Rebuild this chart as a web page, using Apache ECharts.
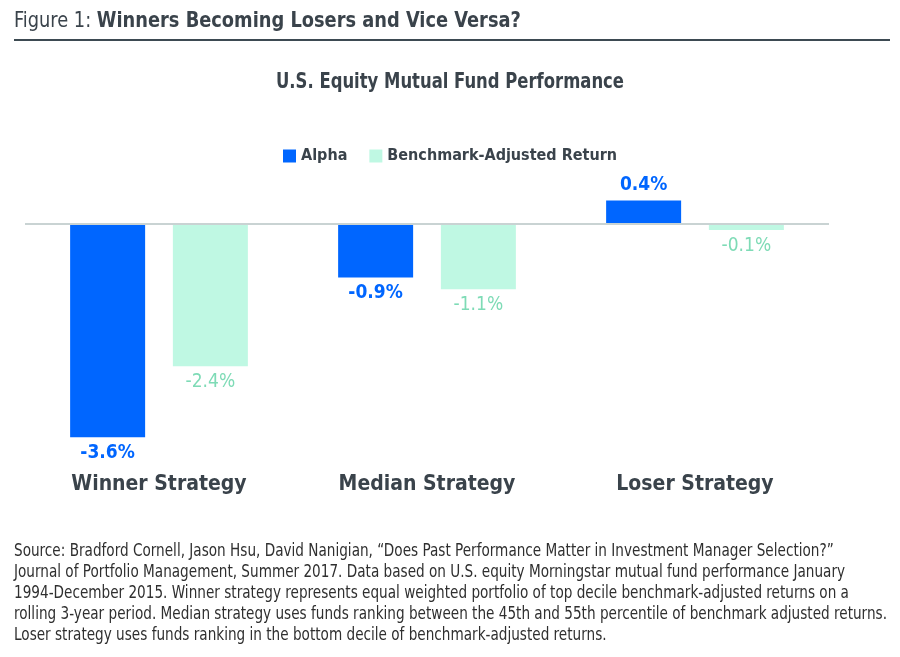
<!DOCTYPE html>
<html>
<head>
<meta charset="utf-8">
<script src="https://cdn.jsdelivr.net/npm/echarts@6/dist/echarts.min.js"></script>
<style>
  html, body { margin: 0; padding: 0; background: #fff; }
  #main { width: 900px; height: 657px; }
</style>
</head>
<body>
<div id="main"></div>
<script>
// data
const categories = ['Winner Strategy', 'Median Strategy', 'Loser Strategy'];
const alphaValues = [-3.6, -0.9, 0.4];
const benchmarkValues = [-2.4, -1.1, -0.1];
const seriesNames = ['Alpha', 'Benchmark-Adjusted Return'];

const FONT = '"DejaVu Sans Condensed", "Liberation Sans Narrow", sans-serif';
const alphaColor = '#0066ff';
const benchColor = '#bff8e3';
const benchLabelColor = '#7edbb6';
const darkText = '#3a434b';

const sourceLines = [
  'Source: Bradford Cornell, Jason Hsu, David Nanigian, \u201cDoes Past Performance Matter in Investment Manager Selection?\u201d',
  'Journal of Portfolio Management, Summer 2017. Data based on U.S. equity Morningstar mutual fund performance January',
  '1994-December 2015. Winner strategy represents equal weighted portfolio of top decile benchmark-adjusted returns on a',
  'rolling 3-year period. Median strategy uses funds ranking between the 45th and 55th percentile of benchmark adjusted returns.',
  'Loser strategy uses funds ranking in the bottom decile of benchmark-adjusted returns.'
];

// label goes above a positive bar, below a negative one
function withLabels(values, color, weight) {
  return values.map(v => ({
    value: v,
    label: {
      show: true,
      position: v >= 0 ? 'top' : 'bottom',
      distance: 6,
      color: color,
      fontFamily: FONT,
      fontSize: 19,
      fontWeight: weight,
      formatter: p => p.value.toFixed(1) + '%'
    }
  }));
}

const myChart = echarts.init(document.getElementById('main'));

const option = {
  animation: false,
  textStyle: { fontFamily: FONT },
  legend: {
    top: 143,
    left: 'center',
    itemWidth: 13,
    itemHeight: 13,
    itemGap: 22,
    icon: 'rect',
    textStyle: { fontFamily: FONT, fontSize: 16, fontWeight: 'bold', color: darkText },
    data: seriesNames
  },
  grid: {
    left: 25,
    right: 71,
    top: 165,
    height: 296
  },
  xAxis: {
    type: 'category',
    data: categories,
    axisLine: { show: false },
    axisTick: { show: false },
    axisLabel: {
      interval: 0,
      margin: 13,
      color: darkText,
      fontFamily: FONT,
      fontSize: 21,
      fontWeight: 'bold'
    }
  },
  yAxis: {
    type: 'value',
    min: -4,
    max: 1,
    interval: 1,
    show: false
  },
  series: [
    {
      name: seriesNames[0],
      type: 'bar',
      barWidth: 75,
      barGap: '37%',
      itemStyle: { color: alphaColor },
      data: withLabels(alphaValues, alphaColor, 'bold'),
      markLine: {
        silent: true,
        symbol: 'none',
        label: { show: false },
        lineStyle: { color: '#c9d3d3', width: 2, type: 'solid' },
        data: [{ yAxis: 0 }]
      },
      z: 3
    },
    {
      name: seriesNames[1],
      type: 'bar',
      barWidth: 75,
      itemStyle: { color: benchColor },
      data: withLabels(benchmarkValues, benchLabelColor, 'normal'),
      z: 3
    }
  ],
  graphic: [
    {
      type: 'text',
      x: 14,
      y: 21,
      scaleX: 0.9,
      style: {
        text: '{a|Figure 1: }{b|Winners Becoming Losers and Vice Versa?}',
        textVerticalAlign: 'middle',
        rich: {
          a: { fontFamily: FONT, fontSize: 22, fill: darkText, fontWeight: 'normal' },
          b: { fontFamily: FONT, fontSize: 22, fill: darkText, fontWeight: 'bold' }
        }
      }
    },
    {
      type: 'line',
      shape: { x1: 14, y1: 40, x2: 890, y2: 40 },
      style: { stroke: '#3d4a52', lineWidth: 2 }
    },
    {
      type: 'text',
      x: 450,
      y: 83,
      scaleX: 0.87,
      style: {
        text: 'U.S. Equity Mutual Fund Performance',
        textAlign: 'center',
        textVerticalAlign: 'middle',
        fontFamily: FONT,
        fontSize: 21,
        fontWeight: 'bold',
        fill: darkText
      }
    },
    {
      type: 'text',
      x: 14,
      y: 541,
      scaleX: 0.89,
      style: {
        text: sourceLines.join('\n'),
        fontFamily: FONT,
        fontSize: 17,
        lineHeight: 21,
        fill: '#2f2f2f'
      }
    }
  ]
};

myChart.setOption(option);
</script>
</body>
</html>
